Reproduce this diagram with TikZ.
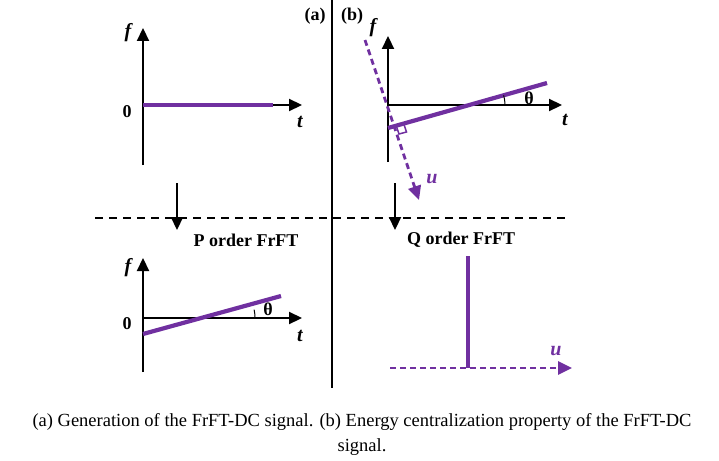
\documentclass[tikz,border=0pt]{standalone}
\usepackage{fontspec}
\setmainfont{Liberation Serif}
\usetikzlibrary{arrows.meta}
\definecolor{sigpurple}{RGB}{112,48,160}
\tikzset{
	axis/.style={draw=black,line width=2.2pt,-{Triangle[length=13pt,width=12pt]}},
	signal/.style={draw=sigpurple,line width=4.2pt},
	uaxis/.style={draw=sigpurple,line width=2.8pt,dash pattern=on 6pt off 4pt,-{Triangle[length=14pt,width=13pt]}},
	lab/.style={font=\fontsize{20}{20}\selectfont\bfseries\itshape},
	txt/.style={font=\fontsize{18}{18}\selectfont\bfseries}
}
\begin{document}
\begin{tikzpicture}[x=1pt,y=1pt,yscale=-1]
	\useasboundingbox (0,0) rectangle (719,460);
	
	%divider lines
	\coordinate (vtop) at (332,0);
	\coordinate (vbot) at (332,388);
	\draw [line width=1.8pt] (vtop) -- (vbot);
	\coordinate (hl) at (95,218);
	\coordinate (hr) at (570,218);
	\draw [line width=1.2pt,dash pattern=on 8pt off 6pt] (hl) -- (hr);
	\node[txt] (la) at (315,16) {(a)};
	\node[txt] (lb) at (352,16) {(b)};
	
	%Panel (a) top
	\coordinate (a0) at (143,105);
	\coordinate (afb) at (143,165);
	\coordinate (aft) at (143,28);
	\coordinate (atr) at (302,105);
	\draw [axis] (afb) -- (aft);
	\draw [axis] (a0) -- (atr);
	\draw [signal] (a0) -- (273,105) coordinate (aend);
	\node[lab] (af) at (128,33) {f};
	\node[lab] (at) at (300,122) {t};
	\node[txt] (az) at (127,112) {0};
	
	%Panel (a) bottom
	\coordinate (c0) at (143,318);
	\coordinate (cfb) at (143,372);
	\coordinate (cft) at (143,258);
	\coordinate (ctr) at (302,318);
	\draw [axis] (cfb) -- (cft);
	\draw [axis] (c0) -- (ctr);
	\coordinate (cs) at (143,334);
	\coordinate (ce) at (281,296);
	\draw [signal] (cs) -- (ce);
	\draw [line width=1pt] (255,318) arc[start angle=0,end angle=-12,radius=40];
	\node[lab] (cf) at (128,268) {f};
	\node[lab] (ct) at (300,336) {t};
	\node[txt] (cz) at (127,324) {0};
	\node[txt] (cth) at (268,309) {θ};
	
	%Panel (b) top
	\coordinate (b0) at (388,105);
	\coordinate (bfb) at (388,162);
	\coordinate (bft) at (388,36);
	\coordinate (btr) at (562,105);
	\draw [axis] (bfb) -- (bft);
	\draw [axis] (b0) -- (btr);
	\coordinate (bs) at (388,128);
	\coordinate (be) at (547,83);
	\draw [signal] (bs) -- (be);
	\draw [line width=1pt] (505,105) arc[start angle=0,end angle=-16,radius=35];
	\coordinate (us) at (365,40);
	\coordinate (ue) at (419,200);
	\draw [uaxis] (us) -- (ue);
	\draw [sigpurple,line width=1.5pt] (396.5,126.5) -- (399,134) -- (406.5,132) -- (404,124.5);
	\node[lab] (bf) at (373,28) {f};
	\node[lab] (bt) at (565,120) {t};
	\node[lab,text=sigpurple] (bu) at (432,179) {u};
	\node[txt] (bth) at (529,98) {θ};
	
	%FrFT arrows
	\coordinate (pa) at (177,183);
	\coordinate (pb) at (177,230);
	\draw [axis] (pa) -- (pb);
	\node[txt] (pl) at (246,240) {P order FrFT};
	\coordinate (qa) at (395,183);
	\coordinate (qb) at (395,230);
	\draw [axis] (qa) -- (qb);
	\node[txt] (ql) at (461,240) {Q order FrFT};
	
	%Panel (b) bottom
	\coordinate (dt) at (468,256);
	\coordinate (db) at (468,368);
	\draw [signal] (dt) -- (db);
	\coordinate (ds) at (390,368);
	\coordinate (de) at (572,368);
	\draw [uaxis] (ds) -- (de);
	\node[lab,text=sigpurple] (du) at (556,351) {u};
	
	%caption
	\node[font=\fontsize{18.5}{25}\selectfont,align=center] (cap) at (362,434) {(a) Generation of the FrFT-DC signal. (b) Energy centralization property of the FrFT-DC\\signal.};
\end{tikzpicture}
\end{document}
